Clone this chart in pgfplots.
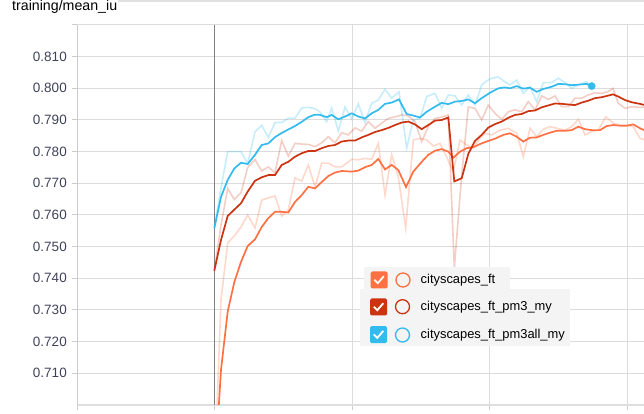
\documentclass[border=0pt]{standalone}
\usepackage{pgfplots}
\pgfplotsset{compat=1.18}
\usepackage{fontspec}
\setmainfont{Liberation Sans}
\definecolor{cOr}{HTML}{FF7043}
\definecolor{cRd}{HTML}{CC3311}
\definecolor{cBl}{HTML}{33BBEE}
\definecolor{gridc}{HTML}{DCDCDC}
\definecolor{tickc}{HTML}{40425A}
\definecolor{legbg}{HTML}{F4F4F4}
\begin{document}
\begin{tikzpicture}
\path[use as bounding box] (0pt,0pt) rectangle (644pt,414pt);
\fill[black!12] (118pt,411.5pt) rectangle (644pt,414pt);
\node[anchor=base west, inner sep=0pt, font=\fontsize{14.2}{16}\selectfont] at (12pt,403pt) {training/mean\_iu};
\begin{axis}[
  at={(77.3pt,9pt)}, anchor=south west, scale only axis,
  width=566.7pt, height=380pt,
  xmin=77.3, xmax=644, ymin=0.7, ymax=0.82,
  axis x line*=bottom, axis y line*=left,
  axis line style={-},
  x axis line style={draw=black!13, line width=2pt},
  y axis line style={draw=black!20, line width=1.3pt},
  xtick={77.3,214.3,352,489.5,627}, xticklabels={},
  ytick={0.71,0.72,0.73,0.74,0.75,0.76,0.77,0.78,0.79,0.80,0.81,0.82},
  yticklabels={0.710,0.720,0.730,0.740,0.750,0.760,0.770,0.780,0.790,0.800,0.810,{}},
  grid=major, major grid style={draw=gridc, line width=1pt},
  tick align=outside, major tick length=5pt,
  tick style={draw=black!20, line width=1pt},
  yticklabel style={font=\fontsize{13.5}{16}\selectfont, text=tickc, xshift=-2pt},
  clip=true,
]
\draw[black!50, line width=1.3pt] (axis cs:214.3,0.70) -- (axis cs:214.3,0.82);
% raw orange
\addplot[cOr, opacity=0.27, line width=1.6pt] coordinates {
(214.3,0.6763)(221,0.7332)(227.7,0.7512)(234.3,0.7534)(241,0.7562)(247.7,0.7600)(255,0.7559)(261.7,0.7647)(268.3,0.7654)(275,0.7660)(281.7,0.7597)(288.3,0.7616)(295,0.7717)(301.7,0.7707)(308.3,0.7758)(315,0.7688)(321.7,0.7764)(328.3,0.7764)(335,0.7752)(341.7,0.7752)(351.7,0.7776)(358.3,0.7774)(365,0.7779)(371.7,0.7776)(378.3,0.7826)(385,0.7663)(391.7,0.7790)(398.3,0.7720)(405.7,0.7559)(413.3,0.7837)(420,0.7842)(426.7,0.7837)(433.3,0.7818)(440,0.7826)(446.7,0.7783)(453.3,0.7736)(460,0.7837)(466.7,0.7821)(473.3,0.7812)(480,0.7843)(485,0.7858)(491.7,0.7853)(500,0.7868)(508.3,0.7874)(516.7,0.7858)(523.3,0.7784)(530,0.7874)(536.7,0.7847)(543.3,0.7871)(550,0.7879)(556.7,0.7874)(565,0.7868)(571.7,0.7879)(578.3,0.7902)(585,0.7853)(591.7,0.7863)(598.3,0.7868)(605.7,0.7910)(613.3,0.7890)(620,0.7884)(626.7,0.7884)(633.3,0.7879)(640,0.7842)(646,0.7837)};
% raw red
\addplot[cRd, opacity=0.24, line width=1.6pt] coordinates {
(214.3,0.7424)(221,0.7568)(227.7,0.7684)(234.3,0.7649)(241,0.7670)(247.7,0.7750)(255,0.7775)(261.7,0.7739)(268.3,0.7752)(275,0.7733)(281.7,0.7835)(288.3,0.7786)(295,0.7826)(301.7,0.7824)(308.3,0.7823)(315,0.7816)(321.7,0.7828)(328.3,0.7847)(335,0.7828)(341.7,0.7860)(348.3,0.7853)(355,0.7875)(361.7,0.7865)(368.3,0.7895)(375,0.7874)(381.7,0.7890)(388.3,0.7905)(395,0.7910)(401.7,0.7916)(408.3,0.7913)(415,0.7895)(421.7,0.7832)(428.3,0.7879)(435,0.7905)(441.7,0.7909)(448.3,0.7916)(454.3,0.7433)(461.7,0.7726)(468.3,0.7941)(475,0.7937)(481.7,0.7900)(488.3,0.7947)(495,0.7921)(501.7,0.7902)(508.3,0.7926)(515,0.7932)(521.7,0.7926)(528.3,0.7958)(535,0.7932)(541.7,0.7976)(548.3,0.7965)(555,0.7976)(561.7,0.7942)(568.3,0.7942)(575,0.7969)(581.7,0.7969)(588.3,0.7979)(595,0.7986)(601.7,0.7984)(608.3,0.7990)(613,0.8000)(618.3,0.7953)(625,0.7937)(631.7,0.7942)(638.3,0.7940)(645,0.7941)};
% raw blue
\addplot[cBl, opacity=0.27, line width=1.6pt] coordinates {
(214.3,0.7558)(221,0.7685)(227.7,0.7800)(234.3,0.7800)(241,0.7800)(247.7,0.7763)(255,0.7863)(261.7,0.7883)(268.3,0.7845)(275,0.7892)(281.7,0.7892)(288.3,0.7906)(295,0.7906)(301.7,0.7938)(308.3,0.7940)(315,0.7936)(320,0.7925)(326.7,0.7894)(331.7,0.7938)(338.3,0.7865)(345,0.7941)(351.7,0.7903)(358.3,0.7951)(365,0.7891)(371.7,0.7953)(378.3,0.7963)(385,0.7997)(391.7,0.7969)(399,0.7989)(406.7,0.7811)(413.3,0.7900)(420,0.7905)(426.7,0.7974)(435,0.7984)(441.7,0.7937)(448.3,0.7979)(455,0.7976)(461.7,0.7947)(468.3,0.7979)(475,0.7947)(481.7,0.8011)(490,0.8030)(498.3,0.8036)(505,0.8020)(510,0.8011)(516.7,0.8026)(523.3,0.7984)(530,0.8005)(536.7,0.7958)(543.3,0.8018)(551.7,0.8018)(558.3,0.8032)(565,0.8018)(571.7,0.8000)(578.3,0.8011)(586.7,0.8021)(591.7,0.8007)};
% smoothed orange
\addplot[cOr, line width=1.7pt] coordinates {
(214.3,0.6763)(221,0.7111)(227.7,0.7295)(234.3,0.7388)(241,0.7452)(247.7,0.7502)(255,0.7523)(261.7,0.7562)(268.3,0.7590)(275,0.7610)(281.7,0.7610)(288.3,0.7608)(295,0.7641)(301.7,0.7663)(308.3,0.7689)(315,0.7684)(321.7,0.7704)(328.3,0.7723)(335,0.7734)(341.7,0.7739)(351.7,0.7737)(358.3,0.7740)(365,0.7751)(371.7,0.7758)(378.3,0.7777)(385,0.7744)(391.7,0.7758)(398.3,0.7742)(406,0.7688)(413.3,0.7737)(421.7,0.7768)(428.3,0.7790)(435,0.7803)(441.7,0.7808)(448.3,0.7800)(453.3,0.7781)(460,0.7800)(466.7,0.7811)(473.3,0.7814)(480,0.7824)(488.3,0.7834)(495,0.7841)(503.3,0.7853)(510,0.7858)(516.7,0.7847)(523.3,0.7832)(530,0.7844)(536.7,0.7845)(543.3,0.7853)(550,0.7860)(556.7,0.7866)(565,0.7866)(571.7,0.7868)(578.3,0.7879)(585,0.7871)(591.7,0.7868)(600,0.7868)(606.7,0.7881)(613.3,0.7884)(620,0.7882)(626.7,0.7882)(633.3,0.7886)(640,0.7874)(646,0.7865)};
% smoothed red
\addplot[cRd, line width=1.7pt] coordinates {
(214.3,0.7424)(221,0.7521)(227.7,0.7597)(234.3,0.7617)(241,0.7637)(247.7,0.7674)(255,0.7708)(261.7,0.7719)(268.3,0.7726)(275,0.7726)(281.7,0.7758)(288.3,0.7768)(295,0.7784)(301.7,0.7795)(308.3,0.7802)(315,0.7802)(321.7,0.7811)(328.3,0.7818)(335,0.7821)(341.7,0.7832)(348.3,0.7835)(355,0.7835)(361.7,0.7845)(368.3,0.7853)(375,0.7862)(381.7,0.7868)(388.3,0.7875)(395,0.7884)(401.7,0.7892)(408.3,0.7895)(415,0.7886)(421.7,0.7871)(428.3,0.7884)(435,0.7898)(441.7,0.7900)(448.3,0.7908)(454.3,0.7706)(461.7,0.7716)(468.3,0.7793)(475,0.7834)(481.7,0.7853)(488.3,0.7876)(495,0.7887)(501.7,0.7895)(508.3,0.7907)(515,0.7916)(521.7,0.7919)(528.3,0.7928)(535,0.7930)(541.7,0.7940)(548.3,0.7946)(555,0.7952)(561.7,0.7951)(568.3,0.7949)(575,0.7947)(581.7,0.7955)(588.3,0.7961)(595,0.7969)(601.7,0.7972)(608.3,0.7977)(613,0.7981)(618.3,0.7974)(625,0.7963)(631.7,0.7956)(638.3,0.7952)(645,0.7947)};
% smoothed blue
\addplot[cBl, line width=1.7pt] coordinates {
(214.3,0.7558)(221,0.7657)(227.7,0.7711)(234.3,0.7747)(241,0.7765)(247.7,0.7761)(255,0.7790)(261.7,0.7821)(268.3,0.7826)(275,0.7846)(281.7,0.7859)(288.3,0.7870)(295,0.7881)(301.7,0.7894)(308.3,0.7909)(315,0.7917)(320,0.7916)(326.7,0.7909)(331.7,0.7916)(338.3,0.7902)(345,0.7911)(351.7,0.7921)(358.3,0.7911)(365,0.7905)(371.7,0.7921)(378.3,0.7932)(385,0.7951)(391.7,0.7955)(399,0.7965)(406.7,0.7919)(413.3,0.7914)(420,0.7908)(426.7,0.7926)(435,0.7942)(441.7,0.7954)(448.3,0.7950)(455,0.7958)(461.7,0.7960)(468.3,0.7965)(475,0.7953)(481.7,0.7969)(490,0.7986)(498.3,0.8000)(505,0.8003)(510,0.8000)(516.7,0.8007)(523.3,0.7999)(530,0.8002)(536.7,0.7989)(543.3,0.7998)(551.7,0.8005)(558.3,0.8014)(565,0.8013)(571.7,0.8010)(580,0.8012)(586.7,0.8014)(591.7,0.8007)};
\addplot[only marks, mark=*, mark size=3.6pt, color=cBl] coordinates {(591.7,0.8007)};
\end{axis}
% legend
\fill[legbg] (364pt,124.7pt) rectangle (509.5pt,147.3pt);
\fill[legbg] (360pt,68.3pt) rectangle (570pt,124.7pt);
\fill[cOr, rounded corners=1.5pt] (370.5pt,125.5pt) rectangle (387.5pt,142.5pt);
\draw[white, line width=1.8pt] (374.3pt,134.3pt) -- (377.8pt,130.8pt) -- (383.8pt,137.8pt);
\draw[cOr, line width=1.3pt] (403pt,134pt) circle (7pt);
\node[anchor=base west, inner sep=0pt, font=\fontsize{12.9}{15}\selectfont] at (420.5pt,130.5pt) {cityscapes\_ft};
\fill[cRd, rounded corners=1.5pt] (370pt,98.5pt) rectangle (387pt,115.5pt);
\draw[white, line width=1.8pt] (373.8pt,107.3pt) -- (377.3pt,103.8pt) -- (383.3pt,110.8pt);
\draw[cRd, line width=1.3pt] (402.5pt,107.3pt) circle (7pt);
\node[anchor=base west, inner sep=0pt, font=\fontsize{12.9}{15}\selectfont] at (420.5pt,103.8pt) {cityscapes\_ft\_pm3\_my};
\fill[cBl, rounded corners=1.5pt] (370pt,70.8pt) rectangle (387pt,87.8pt);
\draw[white, line width=1.8pt] (373.8pt,79.6pt) -- (377.3pt,76.1pt) -- (383.3pt,83.1pt);
\draw[cBl, line width=1.3pt] (402.5pt,79pt) circle (7pt);
\node[anchor=base west, inner sep=0pt, font=\fontsize{12.9}{15}\selectfont] at (420.5pt,75.5pt) {cityscapes\_ft\_pm3all\_my};
\end{tikzpicture}
\end{document}
